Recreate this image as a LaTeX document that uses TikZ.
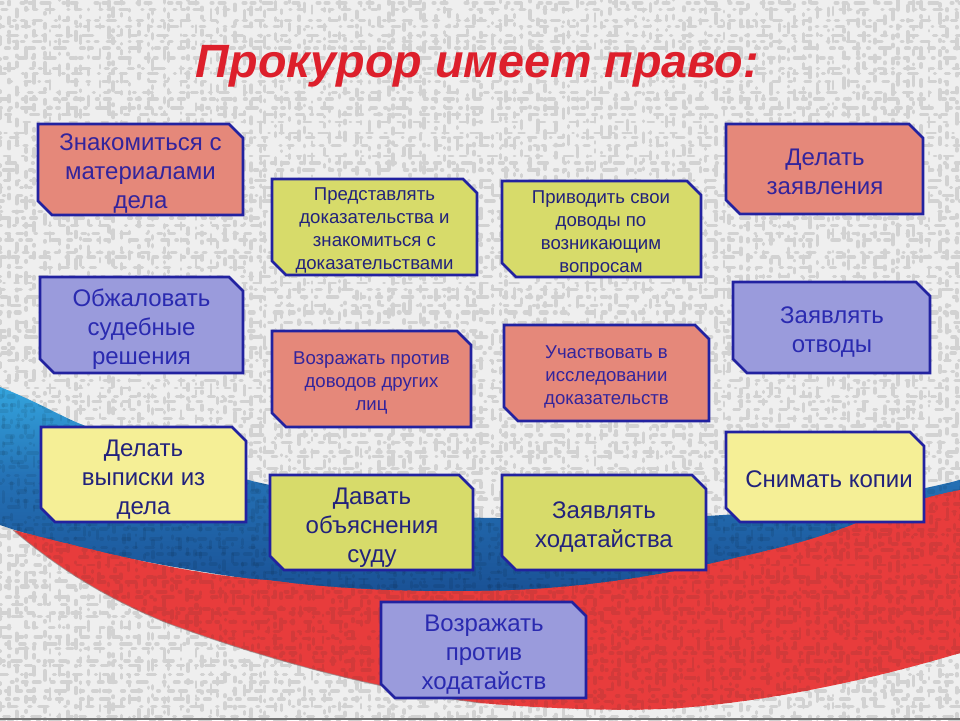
\documentclass[tikz,border=0pt]{standalone}
\usepackage{fontspec}
\setmainfont{Liberation Sans}
\usetikzlibrary{calc}
\definecolor{bgbase}{HTML}{EFEFEF}
\definecolor{bgblob}{HTML}{D2D2D2}
\definecolor{edgeblue}{HTML}{2222A0}
\definecolor{salmonfill}{HTML}{E5887A}
\definecolor{bluefill}{HTML}{9A9BDC}
\definecolor{yellowfill}{HTML}{F5EF96}
\definecolor{olivefill}{HTML}{D7DB6A}
\definecolor{inkviolet}{HTML}{33249C}
\definecolor{inkblue}{HTML}{2A2AB0}
\definecolor{inknavy}{HTML}{22227C}
\definecolor{titlered}{HTML}{DD1F2B}
\definecolor{bandred}{HTML}{E83C3C}
\definecolor{bandreddark}{HTML}{D23A3A}
\definecolor{bandlight}{HTML}{34A5DE}
\definecolor{bandmid}{HTML}{2470B4}
\definecolor{banddark}{HTML}{1A5296}
\tikzset{
  motzero/.style={dash pattern=on 3pt off 9pt on 8pt off 14pt on 1pt off 7pt on 5pt off 19pt on 2pt off 6pt},
  motone/.style={dash pattern=on 6pt off 12pt on 2pt off 8pt on 9pt off 17pt on 1pt off 10pt on 4pt off 7pt},
  mottwo/.style={dash pattern=on 1pt off 6pt on 4pt off 21pt on 7pt off 9pt on 3pt off 13pt on 6pt off 8pt},
  motthree/.style={dash pattern=on 10pt off 16pt on 3pt off 6pt on 2pt off 12pt on 5pt off 9pt on 1pt off 11pt},
  snipbox/.style={draw=edgeblue,line width=2.6pt,line join=miter},
  bigtext/.style={align=center,inner sep=0pt,font=\fontsize{24}{29}\selectfont},
  smalltext/.style={align=center,inner sep=0pt,font=\fontsize{18.6}{23}\selectfont},
  titletext/.style={inner sep=0pt,text=titlered,font=\fontsize{46.7}{50}\selectfont\bfseries\itshape}
}
\pgfmathdeclarerandomlist{motlist}{{motzero}{motone}{mottwo}{motthree}}
% mottled texture from dashed strokes: x1, y1, x2, y2, extra draw options
\newcommand{\mottle}[5]{%
  \pgfmathtruncatemacro{\nrows}{(#4-#2)/8}\pgfmathtruncatemacro{\ncols}{(#3-#1)/8}%
  \foreach \n in {0,...,\nrows} {%
    \pgfmathsetmacro{\ph}{300*rnd}\pgfmathsetmacro{\jit}{#2+8*\n+5*rnd}\pgfmathsetmacro{\mwd}{2.5+1.8*rnd}%
    \pgfmathrandomitem{\sty}{motlist}%
    \draw[#5,\sty,dash phase=\ph pt,line width=\mwd pt,line cap=round] (#1,\jit) -- (#3,\jit);}%
  \foreach \n in {0,...,\ncols} {%
    \pgfmathsetmacro{\ph}{300*rnd}\pgfmathsetmacro{\jit}{#1+8*\n+5*rnd}\pgfmathsetmacro{\mwd}{2.5+1.8*rnd}%
    \pgfmathrandomitem{\sty}{motlist}%
    \draw[#5,\sty,dash phase=\ph pt,line width=\mwd pt,line cap=round] (\jit,#2) -- (\jit,#4);}%
}
% name, x1, y1, x2, y2, fill, text style, ink, text position, text
\newcommand{\snipped}[9]{%
  \draw[snipbox,fill=#6] (#2,#3) -- ({#4-14},#3) -- (#4,{#3+14}) -- (#4,#5) -- ({#2+14},#5) -- (#2,{#5-14}) -- cycle;
  \snippedtext{#1}{#7}{#8}{#9}}
\newcommand{\snippedtext}[4]{\def\stname{#1}\def\ststyle{#2}\def\stink{#3}\def\stpos{#4}\snippedfinish}
\newcommand{\snippedfinish}[1]{\node[\ststyle,text=\stink] (\stname) at (\stpos) {#1};}
\begin{document}
\begin{tikzpicture}[x=1pt,y=-1pt]
\useasboundingbox (0,0) rectangle (960,720);
\pgfmathsetseed{4217}
\fill[bgbase] (0,0) rectangle (960,720);
\begin{scope}
  \clip (0,0) rectangle (960,720);
  \mottle{0}{0}{960}{720}{bgblob}
\end{scope}
% flag bands
\def\bluepath{(0,387) .. controls (40,403) and (60,416) .. (83,425)
  .. controls (140,450) and (200,470) .. (270,485)
  .. controls (340,505) and (420,518) .. (500,518)
  .. controls (620,522) and (800,520) .. (960,480)
  -- (960,560) -- (700,600) -- (400,600) .. controls (250,580) and (100,560) .. (0,525) -- cycle}
\def\redpath{(13,530) .. controls (100,552) and (190,575) .. (267,580)
  .. controls (340,590) and (420,592) .. (480,591)
  .. controls (560,590) and (640,580) .. (713,563)
  .. controls (780,548) and (820,540) .. (880,513)
  .. controls (905,503) and (935,495) .. (960,490)
  -- (960,653) .. controls (880,677) and (780,700) .. (680,708)
  .. controls (620,712) and (540,708) .. (480,703)
  .. controls (380,690) and (267,660) .. (167,623)
  .. controls (110,600) and (60,570) .. (13,530) -- cycle}
\begin{scope}
  \clip \bluepath;
  \shade[top color=bandlight,bottom color=bandmid] (0,385) rectangle (960,480);
  \shade[top color=bandmid,bottom color=banddark] (0,480) rectangle (960,590);
  \mottle{0}{385}{960}{600}{black,opacity=0.08}
\end{scope}
\fill[bandred] \redpath;
\begin{scope}
  \clip \redpath;
  \mottle{0}{485}{960}{715}{bandreddark}
\end{scope}
\draw[black!45,line width=1pt,opacity=.6] (13,530) .. controls (60,570) and (110,600) .. (167,623)
  .. controls (267,660) and (380,690) .. (480,703);
\fill[black!55] (0,717.5) rectangle (960,720);
% title
\node[titletext] (title) at (477.5,66) {Прокурор имеет право:};
% boxes
\snipped{b1}{38}{124}{243}{215}{salmonfill}{bigtext}{inkviolet}{140.5,174}{Знакомиться с\\материалами\\дела}
\snipped{b2}{40}{277}{243}{373}{bluefill}{bigtext}{inkblue}{141.5,329}{Обжаловать\\судебные\\решения}
\snipped{b3}{41}{427}{246}{522}{yellowfill}{bigtext}{inknavy}{143.5,480}{Делать\\выписки из\\дела}
\snipped{b4}{272}{179}{477}{275}{olivefill}{smalltext}{inknavy}{374.5,230}{Представлять\\доказательства и\\знакомиться с\\доказательствами}
\snipped{b5}{272}{331}{471}{427}{salmonfill}{smalltext}{inkviolet}{371.5,383}{Возражать против\\доводов других\\лиц}
\snipped{b6}{270}{475}{473}{570}{olivefill}{bigtext}{inknavy}{372,528}{Давать\\объяснения\\суду}
\snipped{b7}{502}{181}{701}{277}{olivefill}{smalltext}{inknavy}{601,234}{Приводить свои\\доводы по\\возникающим\\вопросам}
\snipped{b8}{504}{325}{709}{421}{salmonfill}{smalltext}{inkviolet}{606.5,377}{Участвовать в\\исследовании\\доказательств}
\snipped{b9}{502}{475}{706}{570}{olivefill}{bigtext}{inknavy}{604,527}{Заявлять\\ходатайства}
\snipped{b10}{726}{124}{923}{214}{salmonfill}{bigtext}{inkviolet}{825,172}{Делать\\заявления}
\snipped{b11}{733}{282}{930}{373}{bluefill}{bigtext}{inkblue}{832,332}{Заявлять\\отводы}
\snipped{b12}{726}{432}{924}{522}{yellowfill}{bigtext}{inknavy}{829,479}{Снимать копии}
\snipped{b13}{381}{602}{586}{698}{bluefill}{bigtext}{inkblue}{484,655}{Возражать\\против\\ходатайств}
\end{tikzpicture}
\end{document}
